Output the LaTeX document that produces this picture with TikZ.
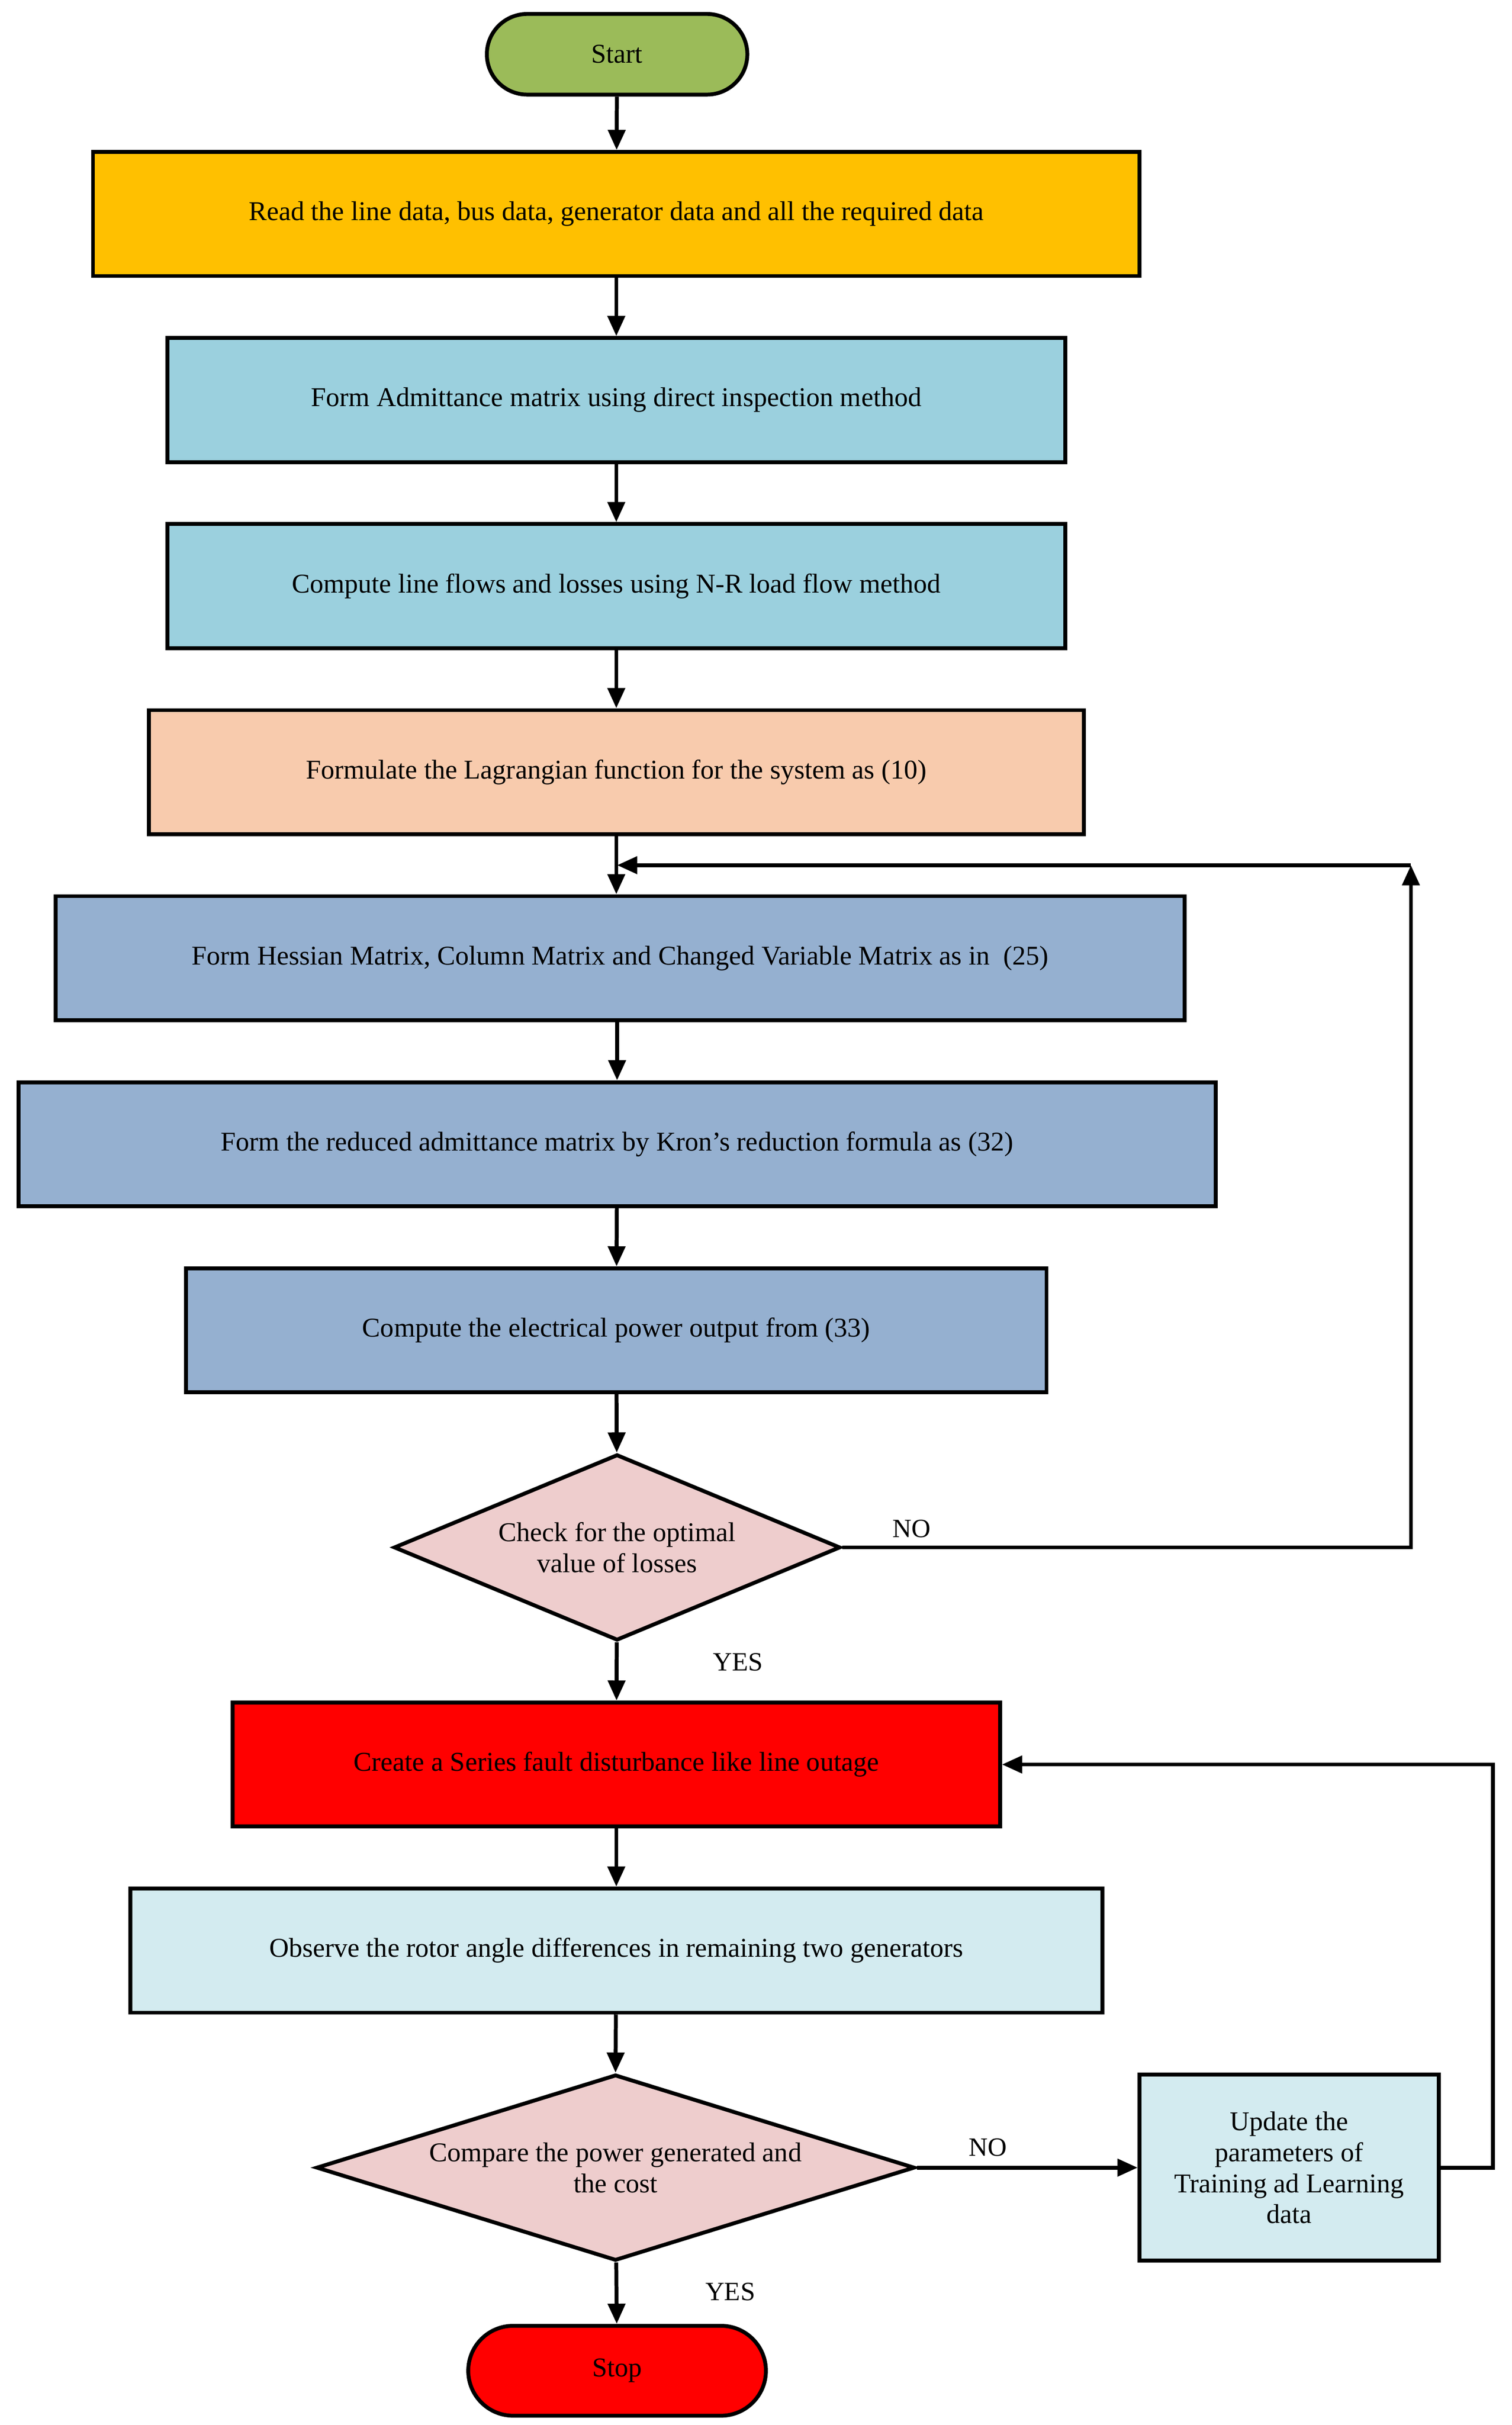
\documentclass[tikz,border=0pt]{standalone}
\usepackage{fontspec}
\setmainfont{Liberation Serif}
\usetikzlibrary{shapes.geometric,arrows.meta}
\definecolor{cgreen}{HTML}{9BBB59}
\definecolor{cyel}{HTML}{FFC000}
\definecolor{cblue}{HTML}{9BD0DE}
\definecolor{cpeach}{HTML}{F8CBAD}
\definecolor{cgrey}{HTML}{95B0D0}
\definecolor{cpink}{HTML}{EECDCD}
\definecolor{ccyan}{HTML}{D3EBF0}
\begin{document}
\begin{tikzpicture}[x=1pt,y=-1pt,
  every node/.style={font=\fontsize{17.5}{20}\selectfont,draw,line width=2.5pt,align=center,inner sep=0pt},
  box/.style={rectangle},
  term/.style={rounded corners=26pt},
  dia/.style={diamond,aspect=2.4},
  arr/.style={line width=2.5pt,-{Triangle[length=13pt,width=11pt]}},
  lbl/.style={draw=none,font=\fontsize{17}{20}\selectfont}]
\useasboundingbox (0,0) rectangle (975,1564);
\node[term,fill=cgreen,minimum width=168pt,minimum height=52pt] (start) at (398,35) {Start};
\node[box,fill=cyel,minimum width=675pt,minimum height=80pt] (b1) at (397.5,138) {Read the line data, bus data, generator data and all the required data};
\node[box,fill=cblue,minimum width=579pt,minimum height=80pt] (b2) at (397.5,258) {Form Admittance matrix using direct inspection method};
\node[box,fill=cblue,minimum width=579pt,minimum height=80pt] (b3) at (397.5,378) {Compute line flows and losses using N-R load flow method};
\node[box,fill=cpeach,minimum width=603pt,minimum height=80pt] (b4) at (397.5,498) {Formulate the Lagrangian function for the system as (10)};
\node[box,fill=cgrey,minimum width=728pt,minimum height=80pt] (b5) at (400,618) {Form Hessian Matrix, Column Matrix and Changed Variable Matrix as in\ \ (25)};
\node[box,fill=cgrey,minimum width=772pt,minimum height=80pt] (b6) at (398,738) {Form the reduced admittance matrix by Kron’s reduction formula as (32)};
\node[box,fill=cgrey,minimum width=555pt,minimum height=80pt] (b7) at (397.5,858) {Compute the electrical power output from (33)};
\node[diamond,fill=cpink,minimum width=288pt,minimum height=120pt,aspect=2.4] (d1) at (398,998) {};
\node[draw=none] at (398,998) {Check for the optimal\\value of losses};
\node[box,fill=red,minimum width=495pt,minimum height=80pt] (b8) at (397.5,1138) {Create a Series fault disturbance like line outage};
\node[box,fill=ccyan,minimum width=627pt,minimum height=80pt] (b9) at (397.5,1258) {Observe the rotor angle differences in remaining two generators};
\node[diamond,fill=cpink,minimum width=386pt,minimum height=120pt,aspect=3.2] (d2) at (397,1398) {};
\node[draw=none] at (397,1398) {Compare the power generated and\\the cost};
\node[box,fill=ccyan,minimum width=193pt,minimum height=120pt] (up) at (831.5,1398) {Update the\\parameters of\\Training ad Learning\\data};
\node[term,fill=red,minimum width=192pt,minimum height=58pt,rounded corners=29pt] (stop) at (398,1529) {Stop};
\coordinate (j1) at (398,558);
\coordinate (c1) at (910,998);
\coordinate (c2) at (910,558);
\coordinate (c3) at (963,1398);
\coordinate (c4) at (963,1138);
\draw[arr] (start) -- (b1);
\draw[arr] (b1) -- (b2);
\draw[arr] (b2) -- (b3);
\draw[arr] (b3) -- (b4);
\draw[arr] (b4.south) -- (b4.south |- b5.north);
\draw[arr] (b5.south -| b6.north) -- (b6.north);
\draw[arr] (b6) -- (b7);
\draw[arr] (b7) -- (d1);
\draw[arr] (d1) -- (b8);
\draw[arr] (b8) -- (b9);
\draw[arr] (b9) -- (d2.north);
\draw[arr] (d2) -- (stop);
\draw[arr] (d1.east) -- (c1) -- (c2);
\draw[arr] (c2) -- (j1);
\draw[arr] (d2.east) -- (up.west);
\draw[arr] (up.east) -- (c3) -- (c4) -- (b8.east);
\node[lbl] at (588,986) {NO};
\node[lbl] at (476,1072) {YES};
\node[lbl] at (637,1385) {NO};
\node[lbl] at (471,1478) {YES};
\end{tikzpicture}
\end{document}
